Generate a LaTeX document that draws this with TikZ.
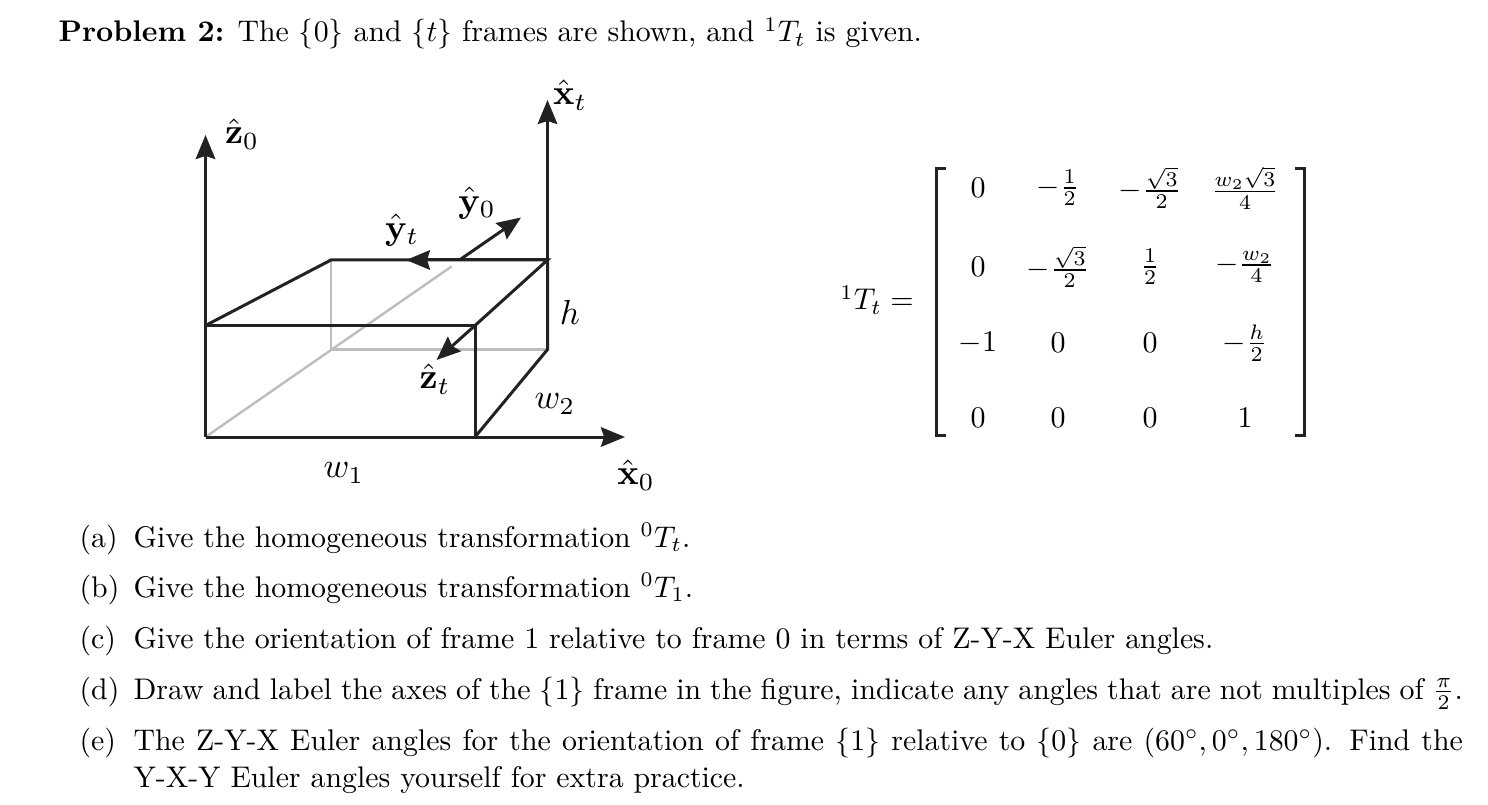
\documentclass[tikz,border=0pt]{standalone}
\usepackage{xcolor}
\usepackage{amsmath,amssymb}
\usetikzlibrary{arrows.meta}
\tikzset{>={Stealth[length=8pt,width=6.5pt,inset=1pt]}}
\definecolor{inkdark}{HTML}{222222}
\definecolor{hidden}{HTML}{BDBDBD}
\tikzset{edge/.style={line width=1pt,inkdark},
  backedge/.style={line width=0.8pt,hidden},
  lbl/.style={inner sep=0pt,text=black},
  axlbl/.style={inner sep=0pt,text=black,scale=1.18},
  dimlbl/.style={inner sep=0pt,text=black,scale=1.16},
  line/.style={anchor=base west,inner sep=0pt,scale=0.9945},
  ent/.style={inner sep=0pt,anchor=center}}

\begin{document}
\begin{tikzpicture}[x=0.3333pt,y=-0.3333pt]
\useasboundingbox (0,0) rectangle (1488,805);
\coordinate (org) at (205.5,437);
\coordinate (frb) at (475,437);
\coordinate (flt) at (205.5,325.5);
\coordinate (frt) at (475,325.5);
\coordinate (blt) at (331,260);
\coordinate (brt) at (547.5,260);
\coordinate (brb) at (547.5,349.5);
\coordinate (blb) at (331,349.5);
\coordinate (ztip) at (205.5,135);
\coordinate (xtip) at (625,437);
\coordinate (xttip) at (547.5,100);
\coordinate (ystart) at (459.5,260);
\coordinate (ytip) at (521,217.5);
\coordinate (ygray) at (451.5,266.5);
\coordinate (yttip) at (406,260);
\coordinate (zttip) at (436.5,360);
% hidden edges
\draw[backedge] (blt)--(blb)--(brb);
\draw[backedge] (org)--(ygray);
% box
\draw[edge] (flt)--(frt)--(frb);
\draw[edge] (flt)--(blt)--(brt)--(frt);
\draw[edge] (frb)--(brb)--(brt);
% axes
\draw[edge,->] (org)--(ztip);
\draw[edge,->] (org)--(xtip);
\draw[edge,->] (brt)--(xttip);
\draw[edge,->] (ystart)--(ytip);
\draw[edge,->] (brt)--(yttip);
\draw[edge,->] (frt)--(zttip);
% axis labels
\node[axlbl] (zlab) at (242,134) {$\hat{\mathbf{z}}_0$};
\node[axlbl] (xtlab) at (570,95) {$\hat{\mathbf{x}}_t$};
\node[axlbl] (ylab) at (477,203) {$\hat{\mathbf{y}}_0$};
\node[axlbl] (ytlab) at (402,230) {$\hat{\mathbf{y}}_t$};
\node[axlbl] (ztlab) at (435,379) {$\hat{\mathbf{z}}_t$};
\node[axlbl] (xlab) at (636,475) {$\hat{\mathbf{x}}_0$};
\node[dimlbl] (hlab) at (570,312) {$h$};
\node[dimlbl] (wtwo) at (555,404) {$w_2$};
\node[dimlbl] (wone) at (344,473) {$w_1$};
% matrix
\node[lbl] (tlab) at (877,300) {${}^1T_t=$};
\draw[edge] (946,169)--(936.5,169)--(936.5,435)--(946,435);
\draw[edge] (1295,169)--(1304.5,169)--(1304.5,435)--(1295,435);
\node[ent] (m11) at (978,188) {$0$};
\node[ent] (m12) at (1058,188) {$-\frac{1}{2}$};
\node[ent] (m13) at (1150,188) {$-\frac{\sqrt{3}}{2}$};
\node[ent] (m14) at (1245,188) {$\frac{w_2\sqrt{3}}{4}$};
\node[ent] (m21) at (978,267) {$0$};
\node[ent] (m22) at (1058,267) {$-\frac{\sqrt{3}}{2}$};
\node[ent] (m23) at (1150,267) {$\frac{1}{2}$};
\node[ent] (m24) at (1245,267) {$-\frac{w_2}{4}$};
\node[ent] (m31) at (978,343) {$-1$};
\node[ent] (m32) at (1058,343) {$0$};
\node[ent] (m33) at (1150,343) {$0$};
\node[ent] (m34) at (1245,343) {$-\frac{h}{2}$};
\node[ent] (m41) at (978,418) {$0$};
\node[ent] (m42) at (1058,418) {$0$};
\node[ent] (m43) at (1150,418) {$0$};
\node[ent] (m44) at (1245,418) {$1$};
% text
\node[line] (title) at (58,42) {\textbf{Problem 2:} The $\{0\}$ and $\{t\}$ frames are shown, and ${}^1T_t$ is given.};
\node[line] (ma) at (79,547) {(a)};
\node[line] (ta) at (133,547) {Give the homogeneous transformation ${}^0T_t$.};
\node[line] (mb) at (79,597) {(b)};
\node[line] (tb) at (133,597) {Give the homogeneous transformation ${}^0T_1$.};
\node[line] (mc) at (79,648) {(c)};
\node[line] (tc) at (133,648) {Give the orientation of frame 1 relative to frame 0 in terms of Z-Y-X Euler angles.};
\node[line] (md) at (79,699) {(d)};
\node[line] (td) at (133,699) {\makebox[445.5pt][s]{Draw and label the axes of the $\{1\}$ frame in the figure, indicate any angles that are not multiples of $\frac{\pi}{2}$.}};
\node[line] (me) at (79,750) {(e)};
\node[line] (te) at (133,750) {\makebox[445.5pt][s]{The Z-Y-X Euler angles for the orientation of frame $\{1\}$ relative to $\{0\}$ are $(60^\circ,0^\circ,180^\circ)$. Find the}};
\node[line] (tf) at (133,787) {Y-X-Y Euler angles yourself for extra practice.};
\end{tikzpicture}
\end{document}
